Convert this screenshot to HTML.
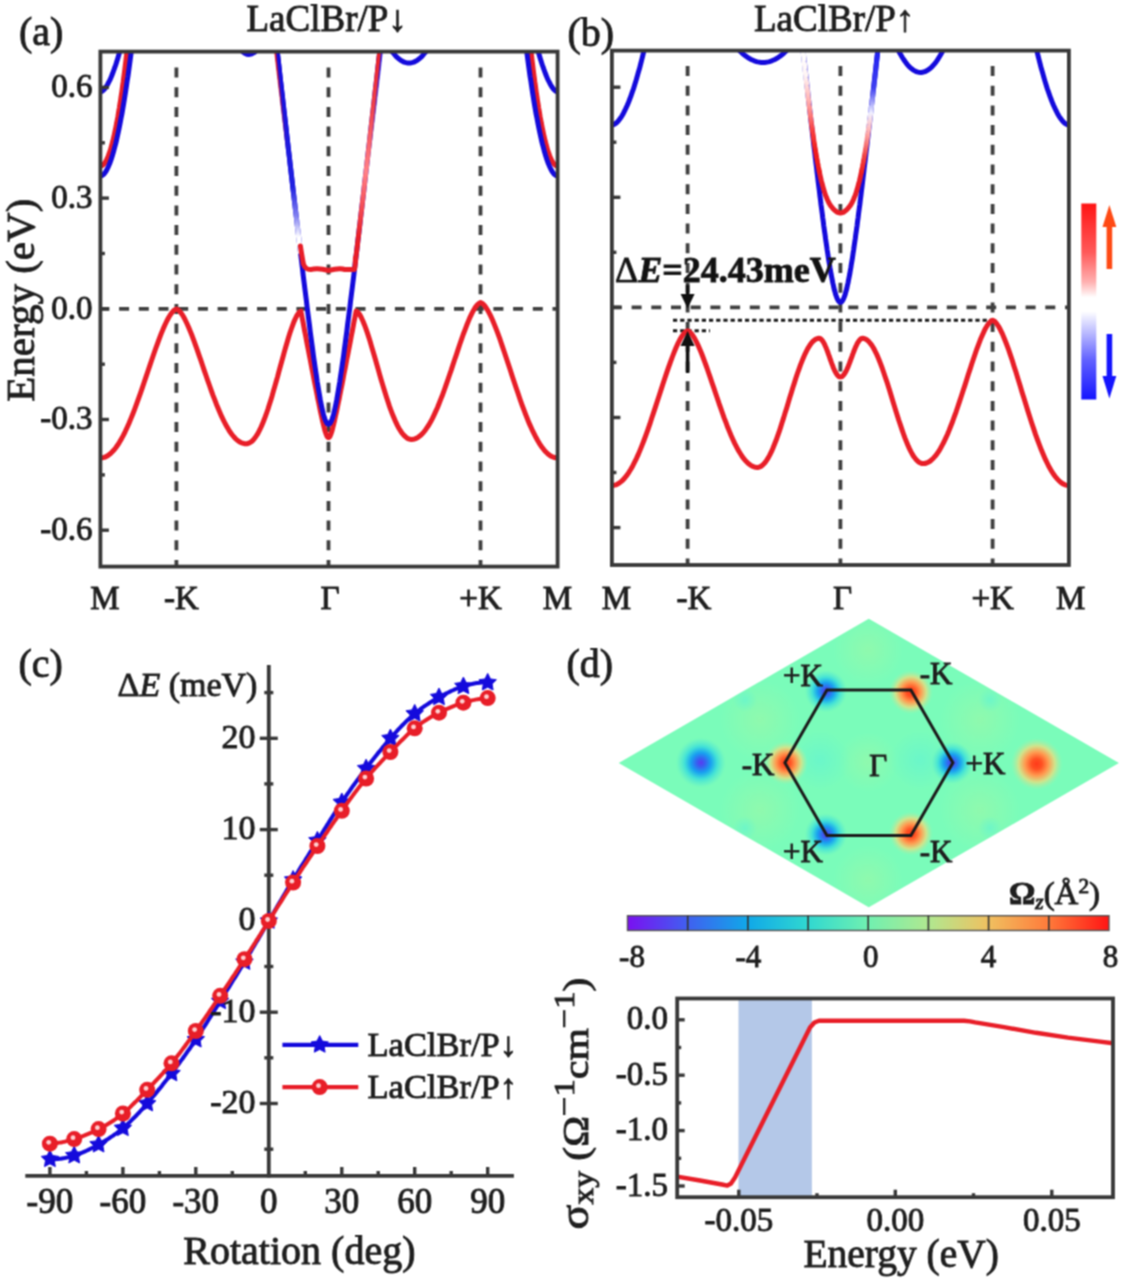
<!DOCTYPE html>
<html><head><meta charset="utf-8"><style>
html,body{margin:0;padding:0;background:#fff;width:1125px;height:1280px;overflow:hidden}
svg{display:block}
text{font-family:"Liberation Serif",serif;stroke:#1e1e1e;stroke-width:0.9px}
</style></head><body>
<svg width="1125" height="1280" viewBox="0 0 1125 1280">
<defs><filter id="bl" x="0" y="0" width="1125" height="1280" filterUnits="userSpaceOnUse" color-interpolation-filters="sRGB"><feConvolveMatrix order="3" kernelMatrix="1 2 1 2 4 2 1 2 1" divisor="16" edgeMode="duplicate" preserveAlpha="true"/></filter></defs>
<rect width="1125" height="1280" fill="#fff"/>
<g filter="url(#bl)">
<rect width="1125" height="1280" fill="#fff"/>
<clipPath id="clipa"><rect x="100.4" y="51.6" width="457.20000000000005" height="515.0"/></clipPath>
<line x1="176.4" y1="67.5" x2="176.4" y2="566.6" stroke="#404040" stroke-width="3.8" stroke-dasharray="10 9.7"/>
<line x1="328.5" y1="67.5" x2="328.5" y2="566.6" stroke="#404040" stroke-width="3.8" stroke-dasharray="10 9.7"/>
<line x1="480.5" y1="67.5" x2="480.5" y2="566.6" stroke="#404040" stroke-width="3.8" stroke-dasharray="10 9.7"/>
<line x1="100.4" y1="308.8" x2="557.6" y2="308.8" stroke="#404040" stroke-width="3.8" stroke-dasharray="10 9.7" stroke-dashoffset="1"/>
<linearGradient id="aLarm" gradientUnits="userSpaceOnUse" x1="0" y1="51" x2="0" y2="245"><stop offset="0" stop-color="#140adc"/><stop offset="0.7" stop-color="#2020e0"/><stop offset="0.85" stop-color="#8080f0"/><stop offset="0.96" stop-color="#ffffff"/><stop offset="1" stop-color="#ffffff"/></linearGradient>
<linearGradient id="aRarm" gradientUnits="userSpaceOnUse" x1="0" y1="51" x2="0" y2="270"><stop offset="0" stop-color="#e81e28"/><stop offset="0.25" stop-color="#f04048"/><stop offset="0.55" stop-color="#ff8088"/><stop offset="0.75" stop-color="#f04048"/><stop offset="0.85" stop-color="#e81e28"/><stop offset="1" stop-color="#e81e28"/></linearGradient>
<linearGradient id="aLedge" gradientUnits="userSpaceOnUse" x1="0" y1="51" x2="0" y2="150"><stop offset="0" stop-color="#f01c1c" stop-opacity="0.9"/><stop offset="1" stop-color="#f01c1c" stop-opacity="0"/></linearGradient>
<linearGradient id="aRedge" gradientUnits="userSpaceOnUse" x1="0" y1="51" x2="0" y2="150"><stop offset="0" stop-color="#1c1cf0" stop-opacity="0.9"/><stop offset="1" stop-color="#1c1cf0" stop-opacity="0"/></linearGradient>
<g clip-path="url(#clipa)" fill="none" stroke-width="5.0" stroke-linecap="round" stroke-linejoin="round">
<path d="M100.4,458.0 L102.3,457.8 L104.2,457.4 L106.1,456.6 L108.0,455.5 L109.9,454.1 L111.8,452.3 L113.7,450.3 L115.6,448.0 L117.5,445.3 L119.4,442.3 L121.3,439.1 L123.2,435.6 L125.1,431.8 L127.0,427.7 L128.9,423.5 L130.8,418.9 L132.7,414.2 L134.6,409.3 L136.5,404.2 L138.4,398.9 L140.3,393.6 L142.2,388.1 L144.1,382.5 L146.0,376.9 L147.9,371.2 L149.8,365.6 L151.7,360.0 L153.6,354.5 L155.5,349.0 L157.4,343.8 L159.3,338.6 L161.2,333.7 L163.1,329.1 L165.0,324.8 L166.9,320.8 L168.8,317.3 L170.7,314.2 L172.6,311.7 L174.5,309.9 L176.4,309.0 L178.1,309.8 L179.9,311.4 L181.6,313.7 L183.4,316.5 L185.1,319.7 L186.8,323.3 L188.6,327.2 L190.3,331.4 L192.1,335.8 L193.8,340.4 L195.5,345.2 L197.3,350.1 L199.0,355.1 L200.8,360.2 L202.5,365.3 L204.2,370.4 L206.0,375.5 L207.7,380.5 L209.5,385.5 L211.2,390.4 L212.9,395.1 L214.7,399.7 L216.4,404.2 L218.2,408.5 L219.9,412.5 L221.6,416.4 L223.4,420.1 L225.1,423.5 L226.9,426.7 L228.6,429.6 L230.3,432.3 L232.1,434.7 L233.8,436.8 L235.6,438.7 L237.3,440.3 L239.0,441.5 L240.8,442.5 L242.5,443.2 L244.3,443.7 L246.0,443.8 L247.4,443.7 L248.7,443.2 L250.1,442.5 L251.5,441.6 L252.9,440.3 L254.2,438.8 L255.6,436.9 L257.0,434.9 L258.4,432.5 L259.7,429.9 L261.1,427.0 L262.5,423.8 L263.8,420.5 L265.2,416.9 L266.6,413.0 L268.0,409.0 L269.3,404.8 L270.7,400.4 L272.1,395.9 L273.4,391.2 L274.8,386.4 L276.2,381.5 L277.6,376.6 L278.9,371.6 L280.3,366.5 L281.7,361.5 L283.1,356.5 L284.4,351.6 L285.8,346.8 L287.2,342.0 L288.5,337.5 L289.9,333.1 L291.3,329.0 L292.7,325.2 L294.0,321.6 L295.4,318.5 L296.8,315.7 L298.2,313.5 L299.5,311.9 L300.9,311.1 L301.8,316.0 L302.8,320.9 L303.7,325.8 L304.6,330.7 L305.6,335.6 L306.5,340.5 L307.4,345.3 L308.4,350.2 L309.3,355.1 L310.3,359.9 L311.2,364.7 L312.1,369.6 L313.1,374.4 L314.0,379.2 L314.9,383.9 L315.9,388.7 L316.8,393.4 L317.7,398.1 L318.7,402.7 L319.6,407.2 L320.5,411.7 L321.5,416.1 L322.4,420.3 L323.4,424.4 L324.3,428.1 L325.2,431.5 L326.2,434.3 L327.1,436.4 L328.0,437.6 L329.0,437.6 L329.9,436.4 L330.8,434.3 L331.8,431.5 L332.7,428.1 L333.6,424.4 L334.6,420.3 L335.5,416.1 L336.5,411.7 L337.4,407.2 L338.3,402.7 L339.3,398.1 L340.2,393.4 L341.1,388.7 L342.1,383.9 L343.0,379.2 L343.9,374.4 L344.9,369.6 L345.8,364.7 L346.7,359.9 L347.7,355.1 L348.6,350.2 L349.6,345.3 L350.5,340.5 L351.4,335.6 L352.4,330.7 L353.3,325.8 L354.2,320.9 L355.2,316.0 L356.1,311.1 L356.1,311.1 L357.5,311.8 L358.9,313.4 L360.3,315.6 L361.6,318.2 L363.0,321.3 L364.4,324.7 L365.8,328.4 L367.2,332.4 L368.6,336.6 L370.0,341.0 L371.3,345.6 L372.7,350.2 L374.1,355.0 L375.5,359.8 L376.9,364.7 L378.3,369.6 L379.6,374.4 L381.0,379.2 L382.4,383.9 L383.8,388.5 L385.2,393.1 L386.6,397.4 L388.0,401.7 L389.3,405.8 L390.7,409.7 L392.1,413.3 L393.5,416.8 L394.9,420.1 L396.3,423.1 L397.6,425.9 L399.0,428.5 L400.4,430.7 L401.8,432.8 L403.2,434.5 L404.6,436.0 L406.0,437.2 L407.3,438.2 L408.7,438.9 L410.1,439.3 L411.5,439.4 L413.2,439.3 L414.9,438.8 L416.7,438.1 L418.4,437.1 L420.1,435.8 L421.9,434.2 L423.6,432.3 L425.3,430.2 L427.0,427.7 L428.8,425.0 L430.5,422.1 L432.2,418.8 L433.9,415.3 L435.6,411.6 L437.4,407.7 L439.1,403.5 L440.8,399.2 L442.6,394.7 L444.3,390.0 L446.0,385.2 L447.7,380.2 L449.4,375.2 L451.2,370.1 L452.9,364.9 L454.6,359.8 L456.4,354.6 L458.1,349.4 L459.8,344.3 L461.5,339.4 L463.2,334.5 L465.0,329.8 L466.7,325.3 L468.4,321.1 L470.1,317.1 L471.9,313.4 L473.6,310.2 L475.3,307.4 L477.1,305.1 L478.8,303.4 L480.5,302.6 L482.5,303.5 L484.5,305.5 L486.4,308.2 L488.4,311.6 L490.4,315.4 L492.4,319.7 L494.3,324.4 L496.3,329.4 L498.3,334.7 L500.3,340.2 L502.2,345.9 L504.2,351.8 L506.2,357.7 L508.2,363.7 L510.2,369.8 L512.1,375.8 L514.1,381.8 L516.1,387.7 L518.1,393.5 L520.0,399.2 L522.0,404.8 L524.0,410.1 L526.0,415.3 L527.9,420.2 L529.9,424.9 L531.9,429.3 L533.9,433.4 L535.9,437.3 L537.8,440.8 L539.8,444.1 L541.8,447.0 L543.8,449.6 L545.7,451.8 L547.7,453.7 L549.7,455.3 L551.7,456.5 L553.6,457.3 L555.6,457.8 L557.6,458.0" stroke="#e81e28"/>
<path d="M274.5,27.3 L275.3,34.2 L276.1,41.0 L276.8,47.9 L277.6,54.7 L278.4,61.5 L279.2,68.4 L279.9,75.2 L280.7,82.0 L281.5,88.8 L282.3,95.6 L283.0,102.4 L283.8,109.2 L284.6,116.0 L285.4,122.8 L286.2,129.5 L286.9,136.3 L287.7,143.1 L288.5,149.8 L289.3,156.5 L290.0,163.3 L290.8,170.0 L291.6,176.7 L292.4,183.4 L293.1,190.1 L293.9,196.8 L294.7,203.4 L295.5,210.1 L296.3,216.7 L297.0,223.3 L297.8,229.9 L298.6,236.5 L299.4,243.0 L300.1,249.5 L300.9,256.0 L301.7,262.5 L302.5,269.0 L303.2,275.4 L304.0,281.8 L304.8,288.2 L305.6,294.5 L306.4,300.8 L307.1,307.0 L307.9,313.2 L308.7,319.3 L309.5,325.4 L310.2,331.5 L311.0,337.4 L311.8,343.3 L312.6,349.1 L313.3,354.8 L314.1,360.4 L314.9,365.9 L315.7,371.3 L316.5,376.5 L317.2,381.6 L318.0,386.5 L318.8,391.2 L319.6,395.8 L320.3,400.0 L321.1,404.1 L321.9,407.8 L322.7,411.3 L323.4,414.4 L324.2,417.1 L325.0,419.4 L325.8,421.3 L326.6,422.8 L327.3,423.7 L328.1,424.2 L328.9,424.2 L329.7,423.7 L330.4,422.8 L331.2,421.3 L332.0,419.4 L332.8,417.1 L333.6,414.4 L334.3,411.3 L335.1,407.8 L335.9,404.1 L336.7,400.0 L337.4,395.8 L338.2,391.2 L339.0,386.5 L339.8,381.6 L340.5,376.5 L341.3,371.3 L342.1,365.9 L342.9,360.4 L343.7,354.8 L344.4,349.1 L345.2,343.3 L346.0,337.4 L346.8,331.5 L347.5,325.4 L348.3,319.3 L349.1,313.2 L349.9,307.0 L350.6,300.8 L351.4,294.5 L352.2,288.2 L353.0,281.8 L353.8,275.4 L354.5,269.0 L355.3,262.5 L356.1,256.0 L356.9,249.5 L357.6,243.0 L358.4,236.5 L359.2,229.9 L360.0,223.3 L360.7,216.7 L361.5,210.1 L362.3,203.4 L363.1,196.8 L363.9,190.1 L364.6,183.4 L365.4,176.7 L366.2,170.0 L367.0,163.3 L367.7,156.5 L368.5,149.8 L369.3,143.1 L370.1,136.3 L370.8,129.5 L371.6,122.8 L372.4,116.0 L373.2,109.2 L374.0,102.4 L374.7,95.6 L375.5,88.8 L376.3,82.0 L377.1,75.2 L377.8,68.4 L378.6,61.5 L379.4,54.7 L380.2,47.9 L380.9,41.0 L381.7,34.2 L382.5,27.3" stroke="#140adc"/>
<path d="M276.5,45.0 L277.1,50.3 L277.7,55.6 L278.3,60.9 L278.9,66.2 L279.5,71.5 L280.1,76.8 L280.7,82.2 L281.3,87.5 L281.9,92.8 L282.6,98.1 L283.2,103.4 L283.8,108.7 L284.4,114.0 L285.0,119.3 L285.6,124.6 L286.2,129.9 L286.8,135.2 L287.4,140.5 L288.0,145.8 L288.6,151.2 L289.3,156.5 L289.9,161.8 L290.5,167.1 L291.1,172.4 L291.7,177.7 L292.3,183.0 L292.9,188.3 L293.6,193.6 L294.2,198.9 L294.8,204.2 L295.4,209.5 L296.0,214.8 L296.7,220.2 L297.3,225.5 L297.9,230.8 L298.5,236.1 L299.2,241.4 L299.8,246.7 L300.4,252.0" stroke="url(#aLarm)"/>
<path d="M274.3,45.0 L274.9,50.5 L275.6,56.1 L276.2,61.6 L276.8,67.1 L277.4,72.6 L278.1,78.2 L278.7,83.7 L279.3,89.2 L280.0,94.7 L280.6,100.3 L281.2,105.8 L281.9,111.3 L282.5,116.8 L283.1,122.4 L283.8,127.9 L284.4,133.4 L285.0,138.9 L285.7,144.5 L286.3,150.0" stroke="url(#aLedge)" stroke-width="1.8"/>
<path d="M380.5,45.0 L379.9,50.6 L379.2,56.1 L378.6,61.7 L378.0,67.3 L377.3,72.8 L376.7,78.4 L376.1,83.9 L375.4,89.5 L374.8,95.1 L374.2,100.6 L373.5,106.2 L372.9,111.8 L372.2,117.3 L371.6,122.9 L371.0,128.5 L370.3,134.0 L369.7,139.6 L369.1,145.2 L368.4,150.7 L367.8,156.3 L367.1,161.8 L366.5,167.4 L365.8,173.0 L365.2,178.5 L364.5,184.1 L363.9,189.7 L363.3,195.2 L362.6,200.8 L362.0,206.4 L361.3,211.9 L360.6,217.5 L360.0,223.1 L359.3,228.6 L358.7,234.2 L358.0,239.7 L357.4,245.3 L356.7,250.9 L356.0,256.4 L355.4,262.0" stroke="url(#aRarm)"/>
<path d="M382.7,45.0 L382.1,50.5 L381.4,56.1 L380.8,61.6 L380.2,67.1 L379.6,72.6 L378.9,78.2 L378.3,83.7 L377.7,89.2 L377.0,94.7 L376.4,100.3 L375.8,105.8 L375.1,111.3 L374.5,116.8 L373.9,122.4 L373.2,127.9 L372.6,133.4 L372.0,138.9 L371.3,144.5 L370.7,150.0" stroke="url(#aRedge)" stroke-width="1.8"/>
<path d="M300.4,246 Q301.9,256 303.4,264 Q305.4,269.6 310.4,269.6 Q318,267.5 328.5,270.5 Q340,267.5 345,269.6 L354.4,269.6 Q355.4,266 355.4,258" stroke="#e81e28"/>
<path d="M100.4,91.9 L100.8,91.8 L101.2,91.7 L101.6,91.5 L102.0,91.3 L102.4,91.0 L102.8,90.7 L103.2,90.3 L103.7,90.0 L104.1,89.5 L104.5,89.1 L104.9,88.6 L105.3,88.0 L105.7,87.5 L106.1,86.9 L106.5,86.2 L106.9,85.6 L107.3,84.9 L107.7,84.2 L108.1,83.4 L108.5,82.6 L108.9,81.8 L109.3,81.0 L109.8,80.2 L110.2,79.3 L110.6,78.4 L111.0,77.4 L111.4,76.5 L111.8,75.5 L112.2,74.5 L112.6,73.5 L113.0,72.4 L113.4,71.3 L113.8,70.2 L114.2,69.1 L114.6,67.9 L115.0,66.8 L115.5,65.6 L115.9,64.3 L116.3,63.1 L116.7,61.8 L117.1,60.5 L117.5,59.2 L117.9,57.9 L118.3,56.5 L118.7,55.2 L119.1,53.8 L119.5,52.4 L119.9,50.9 L120.3,49.4 L120.7,48.0 L121.1,46.5 L121.6,44.9 L122.0,43.4 L122.4,41.8 L122.8,40.2 L123.2,38.6 L123.6,37.0 L124.0,35.4 L124.4,33.7" stroke="#140adc"/>
<path d="M557.6,91.9 L557.2,91.8 L556.8,91.7 L556.4,91.5 L556.0,91.3 L555.6,91.0 L555.2,90.7 L554.8,90.3 L554.3,90.0 L553.9,89.5 L553.5,89.1 L553.1,88.6 L552.7,88.0 L552.3,87.5 L551.9,86.9 L551.5,86.2 L551.1,85.6 L550.7,84.9 L550.3,84.2 L549.9,83.4 L549.5,82.6 L549.1,81.8 L548.7,81.0 L548.2,80.2 L547.8,79.3 L547.4,78.4 L547.0,77.4 L546.6,76.5 L546.2,75.5 L545.8,74.5 L545.4,73.5 L545.0,72.4 L544.6,71.3 L544.2,70.2 L543.8,69.1 L543.4,67.9 L543.0,66.8 L542.5,65.6 L542.1,64.3 L541.7,63.1 L541.3,61.8 L540.9,60.5 L540.5,59.2 L540.1,57.9 L539.7,56.5 L539.3,55.2 L538.9,53.8 L538.5,52.4 L538.1,50.9 L537.7,49.4 L537.3,48.0 L536.9,46.5 L536.4,44.9 L536.0,43.4 L535.6,41.8 L535.2,40.2 L534.8,38.6 L534.4,37.0 L534.0,35.4 L533.6,33.7" stroke="#140adc"/>
<path d="M100.4,166.0 L100.9,166.0 L101.5,165.8 L102.0,165.6 L102.6,165.2 L103.1,164.8 L103.7,164.3 L104.2,163.7 L104.7,163.0 L105.3,162.1 L105.8,161.2 L106.4,160.2 L106.9,159.1 L107.5,157.9 L108.0,156.7 L108.5,155.3 L109.1,153.8 L109.6,152.2 L110.2,150.6 L110.7,148.8 L111.2,146.9 L111.8,145.0 L112.3,142.9 L112.9,140.8 L113.4,138.6 L114.0,136.2 L114.5,133.8 L115.0,131.3 L115.6,128.6 L116.1,125.9 L116.7,123.1 L117.2,120.2 L117.8,117.2 L118.3,114.1 L118.8,110.9 L119.4,107.6 L119.9,104.2 L120.5,100.8 L121.0,97.2 L121.6,93.5 L122.1,89.8 L122.6,85.9 L123.2,81.9 L123.7,77.9 L124.3,73.7 L124.8,69.5 L125.3,65.2 L125.9,60.7 L126.4,56.2 L127.0,51.6 L127.5,46.9 L128.1,42.0 L128.6,37.1 L129.1,32.1 L129.7,27.0 L130.2,21.8 L130.8,16.6 L131.3,11.2 L131.9,5.7 L132.4,0.1" stroke="#e81e28"/>
<path d="M557.6,166.0 L557.1,166.0 L556.5,165.8 L556.0,165.6 L555.4,165.2 L554.9,164.8 L554.3,164.3 L553.8,163.7 L553.3,163.0 L552.7,162.1 L552.2,161.2 L551.6,160.2 L551.1,159.1 L550.5,157.9 L550.0,156.7 L549.5,155.3 L548.9,153.8 L548.4,152.2 L547.8,150.6 L547.3,148.8 L546.8,146.9 L546.2,145.0 L545.7,142.9 L545.1,140.8 L544.6,138.6 L544.0,136.2 L543.5,133.8 L543.0,131.3 L542.4,128.6 L541.9,125.9 L541.3,123.1 L540.8,120.2 L540.2,117.2 L539.7,114.1 L539.2,110.9 L538.6,107.6 L538.1,104.2 L537.5,100.8 L537.0,97.2 L536.4,93.5 L535.9,89.8 L535.4,85.9 L534.8,81.9 L534.3,77.9 L533.7,73.7 L533.2,69.5 L532.7,65.2 L532.1,60.7 L531.6,56.2 L531.0,51.6 L530.5,46.9 L529.9,42.0 L529.4,37.1 L528.9,32.1 L528.3,27.0 L527.8,21.8 L527.2,16.6 L526.7,11.2 L526.1,5.7 L525.6,0.1" stroke="#e81e28"/>
<path d="M100.4,176.0 L101.0,175.9 L101.6,175.7 L102.2,175.4 L102.8,175.0 L103.5,174.5 L104.1,173.9 L104.7,173.2 L105.3,172.3 L105.9,171.4 L106.5,170.4 L107.1,169.3 L107.7,168.0 L108.3,166.7 L108.9,165.3 L109.6,163.8 L110.2,162.2 L110.8,160.5 L111.4,158.7 L112.0,156.8 L112.6,154.9 L113.2,152.8 L113.8,150.7 L114.4,148.4 L115.0,146.1 L115.7,143.6 L116.3,141.1 L116.9,138.5 L117.5,135.8 L118.1,133.0 L118.7,130.2 L119.3,127.2 L119.9,124.2 L120.5,121.0 L121.1,117.8 L121.8,114.5 L122.4,111.1 L123.0,107.6 L123.6,104.0 L124.2,100.3 L124.8,96.6 L125.4,92.8 L126.0,88.8 L126.6,84.8 L127.2,80.7 L127.9,76.6 L128.5,72.3 L129.1,68.0 L129.7,63.5 L130.3,59.0 L130.9,54.4 L131.5,49.7 L132.1,44.9 L132.7,40.1 L133.3,35.1 L134.0,30.1 L134.6,25.0 L135.2,19.8 L135.8,14.5 L136.4,9.2" stroke="#140adc"/>
<path d="M557.6,176.0 L557.0,175.9 L556.4,175.7 L555.8,175.4 L555.2,175.0 L554.5,174.5 L553.9,173.9 L553.3,173.2 L552.7,172.3 L552.1,171.4 L551.5,170.4 L550.9,169.3 L550.3,168.0 L549.7,166.7 L549.1,165.3 L548.4,163.8 L547.8,162.2 L547.2,160.5 L546.6,158.7 L546.0,156.8 L545.4,154.9 L544.8,152.8 L544.2,150.7 L543.6,148.4 L543.0,146.1 L542.3,143.6 L541.7,141.1 L541.1,138.5 L540.5,135.8 L539.9,133.0 L539.3,130.2 L538.7,127.2 L538.1,124.2 L537.5,121.0 L536.9,117.8 L536.2,114.5 L535.6,111.1 L535.0,107.6 L534.4,104.0 L533.8,100.3 L533.2,96.6 L532.6,92.8 L532.0,88.8 L531.4,84.8 L530.8,80.7 L530.1,76.6 L529.5,72.3 L528.9,68.0 L528.3,63.5 L527.7,59.0 L527.1,54.4 L526.5,49.7 L525.9,44.9 L525.3,40.1 L524.7,35.1 L524.0,30.1 L523.4,25.0 L522.8,19.8 L522.2,14.5 L521.6,9.2" stroke="#140adc"/>
<path d="M238,46 Q249,63 260,46" stroke="#140adc"/>
<path d="M388.0,45.4 L389.1,47.1 L390.2,48.8 L391.2,50.4 L392.3,51.9 L393.4,53.2 L394.5,54.5 L395.5,55.8 L396.6,56.9 L397.7,57.9 L398.8,58.8 L399.8,59.6 L400.9,60.4 L402.0,61.0 L403.1,61.6 L404.2,62.1 L405.2,62.4 L406.3,62.7 L407.4,62.9 L408.5,63.0 L409.5,63.0 L410.6,62.9 L411.7,62.7 L412.8,62.4 L413.8,62.1 L414.9,61.6 L416.0,61.0 L417.1,60.4 L418.2,59.6 L419.2,58.8 L420.3,57.9 L421.4,56.9 L422.5,55.8 L423.5,54.5 L424.6,53.2 L425.7,51.9 L426.8,50.4 L427.8,48.8 L428.9,47.1 L430.0,45.4" stroke="#140adc"/>
</g>
<rect x="100.4" y="51.6" width="457.20000000000005" height="515.0" fill="none" stroke="#383838" stroke-width="3.8"/>
<line x1="100.4" y1="87.4" x2="108.9" y2="87.4" stroke="#383838" stroke-width="3.4"/>
<line x1="100.4" y1="198.1" x2="108.9" y2="198.1" stroke="#383838" stroke-width="3.4"/>
<line x1="100.4" y1="308.8" x2="108.9" y2="308.8" stroke="#383838" stroke-width="3.4"/>
<line x1="100.4" y1="419.5" x2="108.9" y2="419.5" stroke="#383838" stroke-width="3.4"/>
<line x1="100.4" y1="530.2" x2="108.9" y2="530.2" stroke="#383838" stroke-width="3.4"/>
<line x1="100.4" y1="142.8" x2="104.9" y2="142.8" stroke="#383838" stroke-width="3.4"/>
<line x1="100.4" y1="253.5" x2="104.9" y2="253.5" stroke="#383838" stroke-width="3.4"/>
<line x1="100.4" y1="364.2" x2="104.9" y2="364.2" stroke="#383838" stroke-width="3.4"/>
<line x1="100.4" y1="474.9" x2="104.9" y2="474.9" stroke="#383838" stroke-width="3.4"/>
<text x="92.5" y="97.2" font-size="33" text-anchor="end" fill="#1e1e1e" >0.6</text>
<text x="92.5" y="207.9" font-size="33" text-anchor="end" fill="#1e1e1e" >0.3</text>
<text x="92.5" y="318.6" font-size="33" text-anchor="end" fill="#1e1e1e" >0.0</text>
<text x="92.5" y="429.3" font-size="33" text-anchor="end" fill="#1e1e1e" >-0.3</text>
<text x="92.5" y="540.0" font-size="33" text-anchor="end" fill="#1e1e1e" >-0.6</text>
<text x="0.0" y="0.0" font-size="41" text-anchor="middle" fill="#1e1e1e" transform="translate(34,300.2) rotate(-90)">Energy (eV)</text>
<text x="19.0" y="44.5" font-size="40" text-anchor="start" fill="#1e1e1e" >(a)</text>
<text x="246.5" y="31.0" font-size="37" text-anchor="start" fill="#1e1e1e" >LaClBr/P&#8595;</text>
<text x="105.0" y="608.6" font-size="33" text-anchor="middle" fill="#1e1e1e" >M</text>
<text x="181.5" y="608.6" font-size="33" text-anchor="middle" fill="#1e1e1e" >-K</text>
<text x="330.0" y="608.6" font-size="33" text-anchor="middle" fill="#1e1e1e" >&#915;</text>
<text x="480.6" y="608.6" font-size="33" text-anchor="middle" fill="#1e1e1e" >+K</text>
<text x="557.3" y="608.6" font-size="33" text-anchor="middle" fill="#1e1e1e" >M</text>
<clipPath id="clipb"><rect x="611.9" y="50.6" width="457.0000000000001" height="514.4"/></clipPath>
<line x1="687.6" y1="66" x2="687.6" y2="565.0" stroke="#404040" stroke-width="3.8" stroke-dasharray="10 9.7"/>
<line x1="840.4" y1="66" x2="840.4" y2="565.0" stroke="#404040" stroke-width="3.8" stroke-dasharray="10 9.7"/>
<line x1="992.6" y1="66" x2="992.6" y2="565.0" stroke="#404040" stroke-width="3.8" stroke-dasharray="10 9.7"/>
<line x1="611.9" y1="307.4" x2="1068.9" y2="307.4" stroke="#404040" stroke-width="3.8" stroke-dasharray="10 9.7"/>
<line x1="673" y1="320.3" x2="992.6" y2="320.3" stroke="#1a1a1a" stroke-width="3" stroke-dasharray="4.2 3"/>
<line x1="673" y1="330.8" x2="710" y2="330.8" stroke="#1a1a1a" stroke-width="3" stroke-dasharray="4.2 3"/>
<linearGradient id="bLarm" gradientUnits="userSpaceOnUse" x1="0" y1="51" x2="0" y2="150"><stop offset="0" stop-color="#ffffff"/><stop offset="0.25" stop-color="#fff4f4"/><stop offset="0.5" stop-color="#ffb0b0"/><stop offset="0.8" stop-color="#f84040"/><stop offset="1" stop-color="#f01c1c"/></linearGradient>
<linearGradient id="bRarm" gradientUnits="userSpaceOnUse" x1="0" y1="51" x2="0" y2="175"><stop offset="0" stop-color="#2020f0"/><stop offset="0.3" stop-color="#4040f0"/><stop offset="0.5" stop-color="#f0f0ff"/><stop offset="0.65" stop-color="#ffb0b0"/><stop offset="0.85" stop-color="#f04040"/><stop offset="1" stop-color="#f01c1c"/></linearGradient>
<g clip-path="url(#clipb)" fill="none" stroke-width="5.0" stroke-linecap="round" stroke-linejoin="round">
<path d="M611.9,485.5 L613.8,485.3 L615.7,484.9 L617.6,484.0 L619.5,482.9 L621.4,481.4 L623.3,479.6 L625.1,477.5 L627.0,475.1 L628.9,472.3 L630.8,469.2 L632.7,465.9 L634.6,462.2 L636.5,458.3 L638.4,454.1 L640.3,449.6 L642.2,444.9 L644.1,440.0 L646.0,434.9 L647.9,429.6 L649.8,424.2 L651.6,418.6 L653.5,412.9 L655.4,407.1 L657.3,401.3 L659.2,395.4 L661.1,389.6 L663.0,383.8 L664.9,378.0 L666.8,372.4 L668.7,366.9 L670.6,361.6 L672.5,356.5 L674.4,351.7 L676.2,347.2 L678.1,343.1 L680.0,339.4 L681.9,336.2 L683.8,333.6 L685.7,331.7 L687.6,330.8 L689.3,331.6 L691.1,333.3 L692.8,335.6 L694.6,338.4 L696.3,341.6 L698.1,345.3 L699.8,349.2 L701.6,353.5 L703.3,358.0 L705.0,362.7 L706.8,367.5 L708.5,372.5 L710.3,377.6 L712.0,382.7 L713.8,387.9 L715.5,393.0 L717.3,398.2 L719.0,403.3 L720.8,408.3 L722.5,413.3 L724.2,418.1 L726.0,422.7 L727.7,427.3 L729.5,431.6 L731.2,435.7 L733.0,439.7 L734.7,443.4 L736.5,446.8 L738.2,450.1 L740.0,453.0 L741.7,455.8 L743.4,458.2 L745.2,460.3 L746.9,462.2 L748.7,463.8 L750.4,465.1 L752.2,466.1 L753.9,466.8 L755.7,467.3 L757.4,467.4 L758.9,467.2 L760.5,466.6 L762.0,465.6 L763.6,464.2 L765.1,462.5 L766.6,460.4 L768.2,457.9 L769.7,455.1 L771.3,451.9 L772.8,448.5 L774.3,444.8 L775.9,440.8 L777.4,436.6 L779.0,432.2 L780.5,427.6 L782.0,422.8 L783.6,417.9 L785.1,412.9 L786.7,407.9 L788.2,402.9 L789.7,397.8 L791.3,392.8 L792.8,387.8 L794.4,382.9 L795.9,378.1 L797.4,373.5 L799.0,369.1 L800.5,364.9 L802.1,360.9 L803.6,357.2 L805.1,353.8 L806.7,350.6 L808.2,347.8 L809.8,345.3 L811.3,343.2 L812.8,341.5 L814.4,340.1 L815.9,339.1 L817.5,338.5 L819.0,338.3 L819.5,338.4 L820.1,338.5 L820.6,338.8 L821.1,339.2 L821.7,339.8 L822.2,340.4 L822.7,341.2 L823.3,342.0 L823.8,342.9 L824.4,344.0 L824.9,345.1 L825.4,346.3 L826.0,347.5 L826.5,348.9 L827.0,350.2 L827.6,351.7 L828.1,353.1 L828.6,354.6 L829.2,356.1 L829.7,357.6 L830.2,359.2 L830.8,360.7 L831.3,362.2 L831.8,363.6 L832.4,365.1 L832.9,366.4 L833.4,367.8 L834.0,369.0 L834.5,370.2 L835.0,371.3 L835.6,372.4 L836.1,373.3 L836.7,374.1 L837.2,374.9 L837.7,375.5 L838.3,376.1 L838.8,376.5 L839.3,376.8 L839.9,376.9 L840.4,377.0 L841.0,376.9 L841.5,376.8 L842.1,376.5 L842.6,376.1 L843.2,375.5 L843.7,374.9 L844.3,374.1 L844.8,373.3 L845.4,372.4 L846.0,371.3 L846.5,370.2 L847.1,369.0 L847.6,367.8 L848.2,366.4 L848.7,365.1 L849.3,363.6 L849.8,362.2 L850.4,360.7 L850.9,359.2 L851.5,357.7 L852.1,356.1 L852.6,354.6 L853.2,353.1 L853.7,351.7 L854.3,350.2 L854.8,348.9 L855.4,347.5 L855.9,346.3 L856.5,345.1 L857.0,344.0 L857.6,342.9 L858.2,342.0 L858.7,341.2 L859.3,340.4 L859.8,339.8 L860.4,339.2 L860.9,338.8 L861.5,338.5 L862.0,338.4 L862.6,338.3 L864.1,338.5 L865.6,339.1 L867.1,340.0 L868.6,341.4 L870.1,343.1 L871.7,345.1 L873.2,347.5 L874.7,350.3 L876.2,353.3 L877.7,356.6 L879.2,360.3 L880.7,364.1 L882.2,368.2 L883.7,372.5 L885.2,377.0 L886.8,381.6 L888.3,386.3 L889.8,391.1 L891.3,396.0 L892.8,400.9 L894.3,405.9 L895.8,410.8 L897.3,415.6 L898.8,420.3 L900.4,424.9 L901.9,429.4 L903.4,433.7 L904.9,437.8 L906.4,441.6 L907.9,445.3 L909.4,448.6 L910.9,451.6 L912.4,454.4 L913.9,456.8 L915.5,458.8 L917.0,460.5 L918.5,461.9 L920.0,462.8 L921.5,463.4 L923.0,463.6 L924.7,463.5 L926.5,463.0 L928.2,462.2 L930.0,461.2 L931.7,459.8 L933.4,458.2 L935.2,456.2 L936.9,453.9 L938.7,451.4 L940.4,448.5 L942.1,445.4 L943.9,442.0 L945.6,438.4 L947.4,434.5 L949.1,430.4 L950.8,426.0 L952.6,421.5 L954.3,416.7 L956.1,411.8 L957.8,406.8 L959.5,401.6 L961.3,396.3 L963.0,391.0 L964.8,385.6 L966.5,380.2 L968.2,374.7 L970.0,369.4 L971.7,364.0 L973.5,358.8 L975.2,353.7 L976.9,348.8 L978.7,344.1 L980.4,339.6 L982.2,335.5 L983.9,331.7 L985.6,328.2 L987.4,325.3 L989.1,322.9 L990.9,321.1 L992.6,320.3 L994.6,321.3 L996.5,323.4 L998.5,326.3 L1000.4,329.8 L1002.4,333.9 L1004.3,338.5 L1006.3,343.5 L1008.3,348.8 L1010.2,354.4 L1012.2,360.3 L1014.1,366.4 L1016.1,372.6 L1018.0,378.9 L1020.0,385.3 L1021.9,391.7 L1023.9,398.1 L1025.9,404.5 L1027.8,410.8 L1029.8,417.0 L1031.7,423.0 L1033.7,428.9 L1035.6,434.6 L1037.6,440.1 L1039.6,445.3 L1041.5,450.3 L1043.5,455.0 L1045.4,459.4 L1047.4,463.5 L1049.3,467.3 L1051.3,470.7 L1053.2,473.8 L1055.2,476.5 L1057.2,478.9 L1059.1,480.9 L1061.1,482.6 L1063.0,483.9 L1065.0,484.8 L1066.9,485.3 L1068.9,485.5" stroke="#e81e28"/>
<path d="M801.4,35.7 L802.0,40.8 L802.5,45.8 L803.1,50.8 L803.6,55.9 L804.2,60.9 L804.8,65.9 L805.3,70.9 L805.9,75.9 L806.5,80.9 L807.0,85.8 L807.6,90.8 L808.1,95.7 L808.7,100.7 L809.3,105.6 L809.8,110.5 L810.4,115.4 L810.9,120.3 L811.5,125.1 L812.1,130.0 L812.6,134.8 L813.2,139.6 L813.7,144.4 L814.3,149.2 L814.9,154.0 L815.4,158.7 L816.0,163.4 L816.6,168.1 L817.1,172.8 L817.7,177.4 L818.2,182.0 L818.8,186.6 L819.4,191.1 L819.9,195.6 L820.5,200.1 L821.0,204.6 L821.6,209.0 L822.2,213.3 L822.7,217.6 L823.3,221.9 L823.8,226.1 L824.4,230.3 L825.0,234.3 L825.5,238.4 L826.1,242.4 L826.7,246.3 L827.2,250.1 L827.8,253.8 L828.3,257.5 L828.9,261.1 L829.5,264.5 L830.0,267.9 L830.6,271.2 L831.1,274.3 L831.7,277.3 L832.3,280.2 L832.8,283.0 L833.4,285.5 L833.9,288.0 L834.5,290.3 L835.1,292.4 L835.6,294.3 L836.2,296.0 L836.8,297.6 L837.3,298.9 L837.9,300.0 L838.4,300.9 L839.0,301.6 L839.6,302.0 L840.1,302.3 L840.7,302.3 L841.2,302.0 L841.8,301.6 L842.4,300.9 L842.9,300.0 L843.5,298.9 L844.0,297.6 L844.6,296.0 L845.2,294.3 L845.7,292.4 L846.3,290.3 L846.9,288.0 L847.4,285.5 L848.0,283.0 L848.5,280.2 L849.1,277.3 L849.7,274.3 L850.2,271.2 L850.8,267.9 L851.3,264.5 L851.9,261.1 L852.5,257.5 L853.0,253.8 L853.6,250.1 L854.1,246.3 L854.7,242.4 L855.3,238.4 L855.8,234.3 L856.4,230.3 L857.0,226.1 L857.5,221.9 L858.1,217.6 L858.6,213.3 L859.2,209.0 L859.8,204.6 L860.3,200.1 L860.9,195.6 L861.4,191.1 L862.0,186.6 L862.6,182.0 L863.1,177.4 L863.7,172.8 L864.2,168.1 L864.8,163.4 L865.4,158.7 L865.9,154.0 L866.5,149.2 L867.1,144.4 L867.6,139.6 L868.2,134.8 L868.7,130.0 L869.3,125.1 L869.9,120.3 L870.4,115.4 L871.0,110.5 L871.5,105.6 L872.1,100.7 L872.7,95.7 L873.2,90.8 L873.8,85.8 L874.3,80.9 L874.9,75.9 L875.5,70.9 L876.0,65.9 L876.6,60.9 L877.2,55.9 L877.7,50.8 L878.3,45.8 L878.8,40.8 L879.4,35.7" stroke="#140adc"/>
<path d="M819.3,171.6 L820.0,175.0 L820.7,178.1 L821.4,181.1 L822.2,183.9 L822.9,186.6 L823.6,189.1 L824.3,191.4 L825.0,193.6 L825.7,195.6 L826.5,197.5 L827.2,199.2 L827.9,200.7 L828.6,202.2 L829.3,203.5 L830.0,204.7 L830.7,205.8 L831.5,206.7 L832.2,207.6 L832.9,208.5 L833.6,209.2 L834.3,209.9 L835.0,210.5 L835.8,211.1 L836.5,211.6 L837.2,212.1 L837.9,212.4 L838.6,212.7 L839.3,212.9 L840.0,213.0 L840.8,213.0 L841.5,212.9 L842.2,212.7 L842.9,212.4 L843.6,212.1 L844.3,211.6 L845.0,211.1 L845.8,210.5 L846.5,209.9 L847.2,209.2 L847.9,208.5 L848.6,207.6 L849.3,206.7 L850.1,205.8 L850.8,204.7 L851.5,203.5 L852.2,202.2 L852.9,200.7 L853.6,199.2 L854.3,197.5 L855.1,195.6 L855.8,193.6 L856.5,191.4 L857.2,189.1 L857.9,186.6 L858.6,183.9 L859.4,181.1 L860.1,178.1 L860.8,175.0 L861.5,171.6" stroke="#e81e28"/>
<path d="M801.9,38.0 L802.3,43.0 L802.8,47.8 L803.2,52.4 L803.7,56.9 L804.1,61.3 L804.6,65.6 L805.0,69.7 L805.5,73.8 L805.9,77.8 L806.4,81.7 L806.8,85.5 L807.3,89.4 L807.7,93.2 L808.1,96.9 L808.6,100.6 L809.0,104.3 L809.5,107.9 L809.9,111.4 L810.4,114.9 L810.8,118.4 L811.3,121.8 L811.7,125.1 L812.2,128.4 L812.6,131.6 L813.1,134.7 L813.5,137.8 L813.9,140.8 L814.4,143.8 L814.8,146.6 L815.3,149.5 L815.7,152.2 L816.2,154.9 L816.6,157.5 L817.1,160.0 L817.5,162.5 L818.0,164.8 L818.4,167.2 L818.9,169.4 L819.3,171.6" stroke="url(#bLarm)"/>
<path d="M861.5,171.6 L861.9,169.4 L862.4,167.2 L862.8,164.8 L863.3,162.5 L863.7,160.0 L864.2,157.5 L864.6,154.9 L865.1,152.2 L865.5,149.5 L866.0,146.6 L866.4,143.8 L866.9,140.8 L867.3,137.8 L867.7,134.7 L868.2,131.6 L868.6,128.4 L869.1,125.1 L869.5,121.8 L870.0,118.4 L870.4,114.9 L870.9,111.4 L871.3,107.9 L871.8,104.3 L872.2,100.6 L872.7,96.9 L873.1,93.2 L873.5,89.4 L874.0,85.5 L874.4,81.7 L874.9,77.8 L875.3,73.8 L875.8,69.7 L876.2,65.6 L876.7,61.3 L877.1,56.9 L877.6,52.4 L878.0,47.8 L878.5,43.0 L878.9,38.0" stroke="url(#bRarm)"/>
<path d="M611.9,125.0 L612.5,124.9 L613.1,124.8 L613.7,124.6 L614.3,124.3 L615.0,123.9 L615.6,123.5 L616.2,123.0 L616.8,122.5 L617.4,121.9 L618.0,121.3 L618.6,120.6 L619.2,119.8 L619.8,119.0 L620.4,118.1 L621.1,117.2 L621.7,116.3 L622.3,115.3 L622.9,114.2 L623.5,113.1 L624.1,111.9 L624.7,110.8 L625.3,109.5 L625.9,108.2 L626.5,106.9 L627.2,105.5 L627.8,104.1 L628.4,102.6 L629.0,101.1 L629.6,99.5 L630.2,97.9 L630.8,96.3 L631.4,94.6 L632.0,92.9 L632.6,91.1 L633.3,89.3 L633.9,87.4 L634.5,85.5 L635.1,83.6 L635.7,81.6 L636.3,79.6 L636.9,77.5 L637.5,75.4 L638.1,73.2 L638.7,71.1 L639.4,68.8 L640.0,66.6 L640.6,64.2 L641.2,61.9 L641.8,59.5 L642.4,57.1 L643.0,54.6 L643.6,52.1 L644.2,49.6 L644.8,47.0 L645.5,44.4 L646.1,41.7 L646.7,39.0 L647.3,36.3 L647.9,33.5" stroke="#140adc"/>
<path d="M1068.9,125.0 L1068.3,124.9 L1067.7,124.8 L1067.1,124.6 L1066.5,124.3 L1065.8,123.9 L1065.2,123.5 L1064.6,123.0 L1064.0,122.5 L1063.4,121.9 L1062.8,121.3 L1062.2,120.6 L1061.6,119.8 L1061.0,119.0 L1060.4,118.1 L1059.7,117.2 L1059.1,116.3 L1058.5,115.3 L1057.9,114.2 L1057.3,113.1 L1056.7,111.9 L1056.1,110.8 L1055.5,109.5 L1054.9,108.2 L1054.3,106.9 L1053.6,105.5 L1053.0,104.1 L1052.4,102.6 L1051.8,101.1 L1051.2,99.5 L1050.6,97.9 L1050.0,96.3 L1049.4,94.6 L1048.8,92.9 L1048.2,91.1 L1047.5,89.3 L1046.9,87.4 L1046.3,85.5 L1045.7,83.6 L1045.1,81.6 L1044.5,79.6 L1043.9,77.5 L1043.3,75.4 L1042.7,73.2 L1042.1,71.1 L1041.4,68.8 L1040.8,66.6 L1040.2,64.2 L1039.6,61.9 L1039.0,59.5 L1038.4,57.1 L1037.8,54.6 L1037.2,52.1 L1036.6,49.6 L1036.0,47.0 L1035.3,44.4 L1034.7,41.7 L1034.1,39.0 L1033.5,36.3 L1032.9,33.5" stroke="#140adc"/>
<path d="M740.0,51.1 L741.2,52.2 L742.4,53.3 L743.5,54.3 L744.7,55.3 L745.9,56.2 L747.1,57.0 L748.3,57.8 L749.4,58.5 L750.6,59.2 L751.8,59.8 L753.0,60.3 L754.2,60.8 L755.3,61.2 L756.5,61.6 L757.7,61.9 L758.9,62.1 L760.1,62.3 L761.2,62.4 L762.4,62.5 L763.6,62.5 L764.8,62.4 L765.9,62.3 L767.1,62.1 L768.3,61.9 L769.5,61.6 L770.7,61.2 L771.8,60.8 L773.0,60.3 L774.2,59.8 L775.4,59.2 L776.6,58.5 L777.7,57.8 L778.9,57.0 L780.1,56.2 L781.3,55.3 L782.5,54.3 L783.6,53.3 L784.8,52.2 L786.0,51.1" stroke="#140adc"/>
<path d="M894.0,40.8 L895.4,44.0 L896.7,46.9 L898.1,49.7 L899.4,52.4 L900.8,54.8 L902.2,57.2 L903.5,59.3 L904.9,61.3 L906.2,63.1 L907.6,64.8 L908.9,66.3 L910.3,67.6 L911.7,68.8 L913.0,69.8 L914.4,70.6 L915.7,71.3 L917.1,71.8 L918.5,72.2 L919.8,72.4 L921.2,72.4 L922.5,72.3 L923.9,71.9 L925.3,71.5 L926.6,70.8 L928.0,70.1 L929.3,69.1 L930.7,68.0 L932.1,66.7 L933.4,65.2 L934.8,63.6 L936.1,61.9 L937.5,59.9 L938.8,57.8 L940.2,55.5 L941.6,53.1 L942.9,50.5 L944.3,47.8 L945.6,44.8 L947.0,41.8" stroke="#140adc"/>
</g>
<rect x="611.9" y="50.6" width="457.0000000000001" height="514.4" fill="none" stroke="#383838" stroke-width="3.8"/>
<line x1="611.9" y1="87.2" x2="620.4" y2="87.2" stroke="#383838" stroke-width="3.4"/>
<line x1="611.9" y1="197.3" x2="620.4" y2="197.3" stroke="#383838" stroke-width="3.4"/>
<line x1="611.9" y1="307.4" x2="620.4" y2="307.4" stroke="#383838" stroke-width="3.4"/>
<line x1="611.9" y1="417.5" x2="620.4" y2="417.5" stroke="#383838" stroke-width="3.4"/>
<line x1="611.9" y1="527.6" x2="620.4" y2="527.6" stroke="#383838" stroke-width="3.4"/>
<line x1="611.9" y1="142.2" x2="616.4" y2="142.2" stroke="#383838" stroke-width="3.4"/>
<line x1="611.9" y1="252.3" x2="616.4" y2="252.3" stroke="#383838" stroke-width="3.4"/>
<line x1="611.9" y1="362.4" x2="616.4" y2="362.4" stroke="#383838" stroke-width="3.4"/>
<line x1="611.9" y1="472.5" x2="616.4" y2="472.5" stroke="#383838" stroke-width="3.4"/>
<line x1="687.6" y1="285" x2="687.6" y2="298" stroke="#111" stroke-width="3.6"/>
<path d="M680.6,294 L694.6,294 L687.6,308.5 Z" fill="#111"/>
<line x1="687.6" y1="343" x2="687.6" y2="373" stroke="#111" stroke-width="3.6"/>
<path d="M680.6,346 L694.6,346 L687.6,331 Z" fill="#111"/>
<linearGradient id="spin" x1="0" y1="0" x2="0" y2="1"><stop offset="0" stop-color="#ff1414"/><stop offset="0.25" stop-color="#ff5a5a"/><stop offset="0.4" stop-color="#ffb0b0"/><stop offset="0.48" stop-color="#ffffff"/><stop offset="0.55" stop-color="#ffffff"/><stop offset="0.65" stop-color="#c0c0ff"/><stop offset="0.8" stop-color="#6060ff"/><stop offset="1" stop-color="#1414ff"/></linearGradient>
<rect x="1081.3" y="203.5" width="15" height="196" fill="url(#spin)"/>
<line x1="1109.4" y1="222" x2="1109.4" y2="269" stroke="#ff4a14" stroke-width="5.6"/>
<path d="M1102.5,227 L1116.3,227 L1109.4,205 Z" fill="#ff4a14"/>
<line x1="1109.4" y1="334" x2="1109.4" y2="380" stroke="#1414ff" stroke-width="5.6"/>
<path d="M1102.5,376 L1116.3,376 L1109.4,398.6 Z" fill="#1414ff"/>
<text x="567.5" y="46.0" font-size="40" text-anchor="start" fill="#1e1e1e" >(b)</text>
<text x="754.0" y="31.0" font-size="37" text-anchor="start" fill="#1e1e1e" >LaClBr/P&#8593;</text>
<text x="616.5" y="608.6" font-size="33" text-anchor="middle" fill="#1e1e1e" >M</text>
<text x="694.0" y="608.6" font-size="33" text-anchor="middle" fill="#1e1e1e" >-K</text>
<text x="842.5" y="608.6" font-size="33" text-anchor="middle" fill="#1e1e1e" >&#915;</text>
<text x="992.7" y="608.6" font-size="33" text-anchor="middle" fill="#1e1e1e" >+K</text>
<text x="1070.7" y="608.6" font-size="33" text-anchor="middle" fill="#1e1e1e" >M</text>
<text x="615" y="282.3" font-size="36" font-weight="bold" fill="#111"><tspan font-weight="normal">&#916;</tspan><tspan font-style="italic">E</tspan><tspan>=24.43meV</tspan></text>
<line x1="268.8" y1="664.9" x2="268.8" y2="1177.5" stroke="#383838" stroke-width="3.8"/>
<line x1="25.3" y1="1175.8" x2="513.9" y2="1175.8" stroke="#383838" stroke-width="3.8"/>
<line x1="259.8" y1="738.3" x2="277.8" y2="738.3" stroke="#383838" stroke-width="3.4"/>
<line x1="259.8" y1="829.6" x2="277.8" y2="829.6" stroke="#383838" stroke-width="3.4"/>
<line x1="259.8" y1="1012.2" x2="277.8" y2="1012.2" stroke="#383838" stroke-width="3.4"/>
<line x1="259.8" y1="1103.5" x2="277.8" y2="1103.5" stroke="#383838" stroke-width="3.4"/>
<line x1="264.3" y1="692.6" x2="273.3" y2="692.6" stroke="#383838" stroke-width="3.4"/>
<line x1="264.3" y1="783.9" x2="273.3" y2="783.9" stroke="#383838" stroke-width="3.4"/>
<line x1="264.3" y1="875.2" x2="273.3" y2="875.2" stroke="#383838" stroke-width="3.4"/>
<line x1="264.3" y1="966.5" x2="273.3" y2="966.5" stroke="#383838" stroke-width="3.4"/>
<line x1="264.3" y1="1057.8" x2="273.3" y2="1057.8" stroke="#383838" stroke-width="3.4"/>
<line x1="264.3" y1="1149.2" x2="273.3" y2="1149.2" stroke="#383838" stroke-width="3.4"/>
<line x1="49.9" y1="1175.8" x2="49.9" y2="1167" stroke="#383838" stroke-width="3.4"/>
<line x1="122.9" y1="1175.8" x2="122.9" y2="1167" stroke="#383838" stroke-width="3.4"/>
<line x1="195.8" y1="1175.8" x2="195.8" y2="1167" stroke="#383838" stroke-width="3.4"/>
<line x1="341.8" y1="1175.8" x2="341.8" y2="1167" stroke="#383838" stroke-width="3.4"/>
<line x1="414.7" y1="1175.8" x2="414.7" y2="1167" stroke="#383838" stroke-width="3.4"/>
<line x1="487.7" y1="1175.8" x2="487.7" y2="1167" stroke="#383838" stroke-width="3.4"/>
<line x1="86.4" y1="1175.8" x2="86.4" y2="1171" stroke="#383838" stroke-width="3.4"/>
<line x1="159.4" y1="1175.8" x2="159.4" y2="1171" stroke="#383838" stroke-width="3.4"/>
<line x1="232.3" y1="1175.8" x2="232.3" y2="1171" stroke="#383838" stroke-width="3.4"/>
<line x1="305.3" y1="1175.8" x2="305.3" y2="1171" stroke="#383838" stroke-width="3.4"/>
<line x1="378.2" y1="1175.8" x2="378.2" y2="1171" stroke="#383838" stroke-width="3.4"/>
<line x1="451.2" y1="1175.8" x2="451.2" y2="1171" stroke="#383838" stroke-width="3.4"/>
<path d="M49.9,1159.2 L51.1,1159.2 L52.4,1159.3 L53.6,1159.2 L54.8,1159.2 L56.0,1159.2 L57.2,1159.1 L58.4,1159.0 L59.6,1158.8 L60.9,1158.7 L62.1,1158.5 L63.3,1158.3 L64.5,1158.1 L65.7,1157.8 L66.9,1157.6 L68.2,1157.3 L69.4,1157.0 L70.6,1156.6 L71.8,1156.3 L73.0,1155.9 L74.2,1155.5 L75.5,1155.1 L76.7,1154.7 L77.9,1154.3 L79.1,1153.8 L80.3,1153.4 L81.5,1152.9 L82.8,1152.4 L84.0,1151.8 L85.2,1151.3 L86.4,1150.8 L87.6,1150.2 L88.8,1149.6 L90.0,1149.0 L91.3,1148.4 L92.5,1147.8 L93.7,1147.2 L94.9,1146.6 L96.1,1145.9 L97.3,1145.3 L98.6,1144.6 L99.8,1143.9 L101.0,1143.2 L102.2,1142.5 L103.4,1141.8 L104.6,1141.1 L105.9,1140.3 L107.1,1139.6 L108.3,1138.8 L109.5,1138.0 L110.7,1137.2 L111.9,1136.4 L113.2,1135.6 L114.4,1134.7 L115.6,1133.9 L116.8,1133.0 L118.0,1132.0 L119.2,1131.1 L120.4,1130.1 L121.7,1129.2 L122.9,1128.2 L124.1,1127.1 L125.3,1126.1 L126.5,1125.0 L127.7,1123.9 L129.0,1122.7 L130.2,1121.6 L131.4,1120.4 L132.6,1119.2 L133.8,1118.0 L135.0,1116.8 L136.3,1115.5 L137.5,1114.2 L138.7,1113.0 L139.9,1111.7 L141.1,1110.3 L142.3,1109.0 L143.6,1107.6 L144.8,1106.3 L146.0,1104.9 L147.2,1103.5 L148.4,1102.1 L149.6,1100.7 L150.8,1099.2 L152.1,1097.8 L153.3,1096.3 L154.5,1094.9 L155.7,1093.4 L156.9,1091.9 L158.1,1090.4 L159.4,1088.9 L160.6,1087.4 L161.8,1085.9 L163.0,1084.3 L164.2,1082.8 L165.4,1081.2 L166.7,1079.7 L167.9,1078.1 L169.1,1076.5 L170.3,1075.0 L171.5,1073.4 L172.7,1071.8 L174.0,1070.2 L175.2,1068.6 L176.4,1066.9 L177.6,1065.3 L178.8,1063.7 L180.0,1062.0 L181.2,1060.4 L182.5,1058.7 L183.7,1057.0 L184.9,1055.4 L186.1,1053.7 L187.3,1051.9 L188.5,1050.2 L189.8,1048.5 L191.0,1046.7 L192.2,1045.0 L193.4,1043.2 L194.6,1041.4 L195.8,1039.6 L197.1,1037.8 L198.3,1035.9 L199.5,1034.1 L200.7,1032.2 L201.9,1030.3 L203.1,1028.4 L204.4,1026.5 L205.6,1024.6 L206.8,1022.7 L208.0,1020.8 L209.2,1018.8 L210.4,1016.9 L211.6,1014.9 L212.9,1013.0 L214.1,1011.0 L215.3,1009.1 L216.5,1007.1 L217.7,1005.2 L218.9,1003.2 L220.2,1001.2 L221.4,999.3 L222.6,997.3 L223.8,995.4 L225.0,993.4 L226.2,991.5 L227.5,989.5 L228.7,987.6 L229.9,985.6 L231.1,983.7 L232.3,981.7 L233.5,979.8 L234.8,977.8 L236.0,975.9 L237.2,973.9 L238.4,971.9 L239.6,969.9 L240.8,968.0 L242.0,966.0 L243.3,964.0 L244.5,962.0 L245.7,960.0 L246.9,958.0 L248.1,955.9 L249.3,953.9 L250.6,951.9 L251.8,949.8 L253.0,947.8 L254.2,945.7 L255.4,943.7 L256.6,941.6 L257.9,939.6 L259.1,937.5 L260.3,935.4 L261.5,933.4 L262.7,931.3 L263.9,929.2 L265.2,927.1 L266.4,925.1 L267.6,923.0 L268.8,920.9 L270.0,918.8 L271.2,916.7 L272.4,914.7 L273.7,912.6 L274.9,910.5 L276.1,908.4 L277.3,906.4 L278.5,904.3 L279.7,902.2 L281.0,900.2 L282.2,898.1 L283.4,896.1 L284.6,894.0 L285.8,892.0 L287.0,889.9 L288.3,887.9 L289.5,885.9 L290.7,883.8 L291.9,881.8 L293.1,879.8 L294.3,877.8 L295.6,875.8 L296.8,873.8 L298.0,871.9 L299.2,869.9 L300.4,867.9 L301.6,865.9 L302.8,864.0 L304.1,862.0 L305.3,860.1 L306.5,858.1 L307.7,856.2 L308.9,854.2 L310.1,852.3 L311.4,850.3 L312.6,848.4 L313.8,846.4 L315.0,844.5 L316.2,842.5 L317.4,840.6 L318.7,838.6 L319.9,836.6 L321.1,834.7 L322.3,832.7 L323.5,830.8 L324.7,828.8 L326.0,826.9 L327.2,824.9 L328.4,823.0 L329.6,821.0 L330.8,819.1 L332.0,817.2 L333.2,815.3 L334.5,813.4 L335.7,811.5 L336.9,809.6 L338.1,807.7 L339.3,805.9 L340.5,804.0 L341.8,802.2 L343.0,800.4 L344.2,798.6 L345.4,796.8 L346.6,795.1 L347.8,793.3 L349.1,791.6 L350.3,789.9 L351.5,788.1 L352.7,786.4 L353.9,784.8 L355.1,783.1 L356.4,781.4 L357.6,779.8 L358.8,778.1 L360.0,776.5 L361.2,774.9 L362.4,773.2 L363.6,771.6 L364.9,770.0 L366.1,768.4 L367.3,766.8 L368.5,765.3 L369.7,763.7 L370.9,762.1 L372.2,760.6 L373.4,759.0 L374.6,757.5 L375.8,755.9 L377.0,754.4 L378.2,752.9 L379.5,751.4 L380.7,749.9 L381.9,748.4 L383.1,746.9 L384.3,745.5 L385.5,744.0 L386.8,742.6 L388.0,741.1 L389.2,739.7 L390.4,738.3 L391.6,736.9 L392.8,735.5 L394.0,734.2 L395.3,732.8 L396.5,731.5 L397.7,730.1 L398.9,728.8 L400.1,727.6 L401.3,726.3 L402.6,725.0 L403.8,723.8 L405.0,722.6 L406.2,721.4 L407.4,720.2 L408.6,719.1 L409.9,717.9 L411.1,716.8 L412.3,715.7 L413.5,714.7 L414.7,713.6 L415.9,712.6 L417.2,711.7 L418.4,710.7 L419.6,709.8 L420.8,708.8 L422.0,707.9 L423.2,707.1 L424.4,706.2 L425.7,705.4 L426.9,704.6 L428.1,703.8 L429.3,703.0 L430.5,702.2 L431.7,701.5 L433.0,700.7 L434.2,700.0 L435.4,699.3 L436.6,698.6 L437.8,697.9 L439.0,697.2 L440.3,696.5 L441.5,695.9 L442.7,695.2 L443.9,694.6 L445.1,694.0 L446.3,693.4 L447.6,692.8 L448.8,692.2 L450.0,691.6 L451.2,691.0 L452.4,690.5 L453.6,690.0 L454.8,689.4 L456.1,688.9 L457.3,688.4 L458.5,688.0 L459.7,687.5 L460.9,687.1 L462.1,686.7 L463.4,686.3 L464.6,685.9 L465.8,685.5 L467.0,685.2 L468.2,684.8 L469.4,684.5 L470.7,684.2 L471.9,684.0 L473.1,683.7 L474.3,683.5 L475.5,683.3 L476.7,683.1 L478.0,683.0 L479.2,682.8 L480.4,682.7 L481.6,682.6 L482.8,682.6 L484.0,682.6 L485.2,682.5 L486.5,682.6 L487.7,682.6" fill="none" stroke="#140adc" stroke-width="4"/>
<polygon points="49.9,1150.0 52.6,1155.5 58.7,1156.4 54.3,1160.6 55.3,1166.6 49.9,1163.8 44.5,1166.6 45.5,1160.6 41.2,1156.4 47.2,1155.5" fill="#140adc" stroke="#140adc" stroke-width="1"/>
<polygon points="74.2,1146.3 76.9,1151.8 83.0,1152.7 78.6,1157.0 79.6,1163.0 74.2,1160.1 68.8,1163.0 69.9,1157.0 65.5,1152.7 71.5,1151.8" fill="#140adc" stroke="#140adc" stroke-width="1"/>
<polygon points="98.6,1135.4 101.3,1140.9 107.3,1141.7 102.9,1146.0 104.0,1152.0 98.6,1149.2 93.2,1152.0 94.2,1146.0 89.8,1141.7 95.9,1140.9" fill="#140adc" stroke="#140adc" stroke-width="1"/>
<polygon points="122.9,1119.0 125.6,1124.4 131.6,1125.3 127.3,1129.6 128.3,1135.6 122.9,1132.8 117.5,1135.6 118.5,1129.6 114.1,1125.3 120.2,1124.4" fill="#140adc" stroke="#140adc" stroke-width="1"/>
<polygon points="147.2,1094.3 149.9,1099.8 155.9,1100.7 151.6,1104.9 152.6,1110.9 147.2,1108.1 141.8,1110.9 142.8,1104.9 138.5,1100.7 144.5,1099.8" fill="#140adc" stroke="#140adc" stroke-width="1"/>
<polygon points="171.5,1064.2 174.2,1069.6 180.3,1070.5 175.9,1074.8 176.9,1080.8 171.5,1078.0 166.1,1080.8 167.1,1074.8 162.8,1070.5 168.8,1069.6" fill="#140adc" stroke="#140adc" stroke-width="1"/>
<polygon points="195.8,1030.4 198.5,1035.9 204.6,1036.7 200.2,1041.0 201.2,1047.0 195.8,1044.2 190.4,1047.0 191.5,1041.0 187.1,1036.7 193.1,1035.9" fill="#140adc" stroke="#140adc" stroke-width="1"/>
<polygon points="220.2,992.0 222.9,997.5 228.9,998.4 224.5,1002.7 225.6,1008.7 220.2,1005.8 214.8,1008.7 215.8,1002.7 211.4,998.4 217.5,997.5" fill="#140adc" stroke="#140adc" stroke-width="1"/>
<polygon points="244.5,952.8 247.2,958.3 253.2,959.1 248.9,963.4 249.9,969.4 244.5,966.6 239.1,969.4 240.1,963.4 235.7,959.1 241.8,958.3" fill="#140adc" stroke="#140adc" stroke-width="1"/>
<polygon points="268.8,911.7 271.5,917.2 277.5,918.1 273.2,922.3 274.2,928.3 268.8,925.5 263.4,928.3 264.4,922.3 260.1,918.1 266.1,917.2" fill="#140adc" stroke="#140adc" stroke-width="1"/>
<polygon points="293.1,870.6 295.8,876.1 301.9,877.0 297.5,881.2 298.5,887.3 293.1,884.4 287.7,887.3 288.7,881.2 284.4,877.0 290.4,876.1" fill="#140adc" stroke="#140adc" stroke-width="1"/>
<polygon points="317.4,831.4 320.1,836.8 326.2,837.7 321.8,842.0 322.8,848.0 317.4,845.2 312.0,848.0 313.1,842.0 308.7,837.7 314.7,836.8" fill="#140adc" stroke="#140adc" stroke-width="1"/>
<polygon points="341.8,793.0 344.5,798.5 350.5,799.4 346.1,803.6 347.2,809.7 341.8,806.8 336.4,809.7 337.4,803.6 333.0,799.4 339.1,798.5" fill="#140adc" stroke="#140adc" stroke-width="1"/>
<polygon points="366.1,759.2 368.8,764.7 374.8,765.6 370.5,769.9 371.5,775.9 366.1,773.0 360.7,775.9 361.7,769.9 357.3,765.6 363.4,764.7" fill="#140adc" stroke="#140adc" stroke-width="1"/>
<polygon points="390.4,729.1 393.1,734.6 399.1,735.5 394.8,739.7 395.8,745.7 390.4,742.9 385.0,745.7 386.0,739.7 381.7,735.5 387.7,734.6" fill="#140adc" stroke="#140adc" stroke-width="1"/>
<polygon points="414.7,704.4 417.4,709.9 423.5,710.8 419.1,715.1 420.1,721.1 414.7,718.2 409.3,721.1 410.3,715.1 406.0,710.8 412.0,709.9" fill="#140adc" stroke="#140adc" stroke-width="1"/>
<polygon points="439.0,688.0 441.7,693.5 447.8,694.4 443.4,698.6 444.4,704.7 439.0,701.8 433.6,704.7 434.7,698.6 430.3,694.4 436.3,693.5" fill="#140adc" stroke="#140adc" stroke-width="1"/>
<polygon points="463.4,677.1 466.1,682.5 472.1,683.4 467.7,687.7 468.8,693.7 463.4,690.9 458.0,693.7 459.0,687.7 454.6,683.4 460.7,682.5" fill="#140adc" stroke="#140adc" stroke-width="1"/>
<polygon points="487.7,673.4 490.4,678.9 496.4,679.8 492.1,684.0 493.1,690.0 487.7,687.2 482.3,690.0 483.3,684.0 478.9,679.8 485.0,678.9" fill="#140adc" stroke="#140adc" stroke-width="1"/>
<path d="M49.9,1143.7 L51.1,1143.6 L52.4,1143.5 L53.6,1143.4 L54.8,1143.3 L56.0,1143.1 L57.2,1143.0 L58.4,1142.8 L59.6,1142.6 L60.9,1142.4 L62.1,1142.2 L63.3,1141.9 L64.5,1141.7 L65.7,1141.4 L66.9,1141.1 L68.2,1140.8 L69.4,1140.5 L70.6,1140.2 L71.8,1139.8 L73.0,1139.5 L74.2,1139.1 L75.5,1138.7 L76.7,1138.3 L77.9,1137.9 L79.1,1137.5 L80.3,1137.1 L81.5,1136.6 L82.8,1136.1 L84.0,1135.7 L85.2,1135.2 L86.4,1134.7 L87.6,1134.2 L88.8,1133.6 L90.0,1133.1 L91.3,1132.6 L92.5,1132.0 L93.7,1131.4 L94.9,1130.9 L96.1,1130.3 L97.3,1129.7 L98.6,1129.1 L99.8,1128.4 L101.0,1127.8 L102.2,1127.2 L103.4,1126.5 L104.6,1125.9 L105.9,1125.2 L107.1,1124.5 L108.3,1123.8 L109.5,1123.0 L110.7,1122.3 L111.9,1121.5 L113.2,1120.7 L114.4,1119.9 L115.6,1119.1 L116.8,1118.2 L118.0,1117.3 L119.2,1116.4 L120.4,1115.5 L121.7,1114.5 L122.9,1113.5 L124.1,1112.5 L125.3,1111.5 L126.5,1110.4 L127.7,1109.3 L129.0,1108.2 L130.2,1107.1 L131.4,1105.9 L132.6,1104.7 L133.8,1103.5 L135.0,1102.3 L136.3,1101.1 L137.5,1099.9 L138.7,1098.6 L139.9,1097.4 L141.1,1096.1 L142.3,1094.9 L143.6,1093.6 L144.8,1092.3 L146.0,1091.1 L147.2,1089.8 L148.4,1088.5 L149.6,1087.3 L150.8,1086.0 L152.1,1084.7 L153.3,1083.5 L154.5,1082.2 L155.7,1080.9 L156.9,1079.6 L158.1,1078.3 L159.4,1077.0 L160.6,1075.7 L161.8,1074.4 L163.0,1073.1 L164.2,1071.7 L165.4,1070.4 L166.7,1069.0 L167.9,1067.6 L169.1,1066.2 L170.3,1064.8 L171.5,1063.3 L172.7,1061.9 L174.0,1060.4 L175.2,1058.9 L176.4,1057.3 L177.6,1055.8 L178.8,1054.2 L180.0,1052.7 L181.2,1051.1 L182.5,1049.4 L183.7,1047.8 L184.9,1046.2 L186.1,1044.5 L187.3,1042.9 L188.5,1041.2 L189.8,1039.5 L191.0,1037.8 L192.2,1036.1 L193.4,1034.4 L194.6,1032.7 L195.8,1031.0 L197.1,1029.3 L198.3,1027.6 L199.5,1025.8 L200.7,1024.1 L201.9,1022.3 L203.1,1020.6 L204.4,1018.8 L205.6,1017.1 L206.8,1015.3 L208.0,1013.6 L209.2,1011.8 L210.4,1010.0 L211.6,1008.3 L212.9,1006.5 L214.1,1004.7 L215.3,1002.9 L216.5,1001.1 L217.7,999.3 L218.9,997.6 L220.2,995.8 L221.4,994.0 L222.6,992.2 L223.8,990.4 L225.0,988.6 L226.2,986.8 L227.5,985.0 L228.7,983.2 L229.9,981.3 L231.1,979.5 L232.3,977.7 L233.5,975.9 L234.8,974.1 L236.0,972.2 L237.2,970.4 L238.4,968.5 L239.6,966.7 L240.8,964.8 L242.0,963.0 L243.3,961.1 L244.5,959.2 L245.7,957.4 L246.9,955.5 L248.1,953.6 L249.3,951.7 L250.6,949.8 L251.8,947.9 L253.0,946.0 L254.2,944.1 L255.4,942.2 L256.6,940.2 L257.9,938.3 L259.1,936.4 L260.3,934.5 L261.5,932.5 L262.7,930.6 L263.9,928.7 L265.2,926.7 L266.4,924.8 L267.6,922.8 L268.8,920.9 L270.0,919.0 L271.2,917.0 L272.4,915.1 L273.7,913.1 L274.9,911.2 L276.1,909.3 L277.3,907.3 L278.5,905.4 L279.7,903.5 L281.0,901.6 L282.2,899.6 L283.4,897.7 L284.6,895.8 L285.8,893.9 L287.0,892.0 L288.3,890.1 L289.5,888.2 L290.7,886.3 L291.9,884.4 L293.1,882.6 L294.3,880.7 L295.6,878.8 L296.8,877.0 L298.0,875.1 L299.2,873.3 L300.4,871.4 L301.6,869.6 L302.8,867.7 L304.1,865.9 L305.3,864.1 L306.5,862.3 L307.7,860.5 L308.9,858.6 L310.1,856.8 L311.4,855.0 L312.6,853.2 L313.8,851.4 L315.0,849.6 L316.2,847.8 L317.4,846.0 L318.7,844.2 L319.9,842.5 L321.1,840.7 L322.3,838.9 L323.5,837.1 L324.7,835.3 L326.0,833.5 L327.2,831.8 L328.4,830.0 L329.6,828.2 L330.8,826.5 L332.0,824.7 L333.2,823.0 L334.5,821.2 L335.7,819.5 L336.9,817.7 L338.1,816.0 L339.3,814.2 L340.5,812.5 L341.8,810.8 L343.0,809.1 L344.2,807.4 L345.4,805.7 L346.6,804.0 L347.8,802.3 L349.1,800.6 L350.3,798.9 L351.5,797.3 L352.7,795.6 L353.9,794.0 L355.1,792.4 L356.4,790.7 L357.6,789.1 L358.8,787.6 L360.0,786.0 L361.2,784.5 L362.4,782.9 L363.6,781.4 L364.9,779.9 L366.1,778.5 L367.3,777.0 L368.5,775.6 L369.7,774.2 L370.9,772.8 L372.2,771.4 L373.4,770.1 L374.6,768.7 L375.8,767.4 L377.0,766.1 L378.2,764.8 L379.5,763.5 L380.7,762.2 L381.9,760.9 L383.1,759.6 L384.3,758.3 L385.5,757.1 L386.8,755.8 L388.0,754.5 L389.2,753.3 L390.4,752.0 L391.6,750.7 L392.8,749.5 L394.0,748.2 L395.3,746.9 L396.5,745.7 L397.7,744.4 L398.9,743.2 L400.1,741.9 L401.3,740.7 L402.6,739.5 L403.8,738.3 L405.0,737.1 L406.2,735.9 L407.4,734.7 L408.6,733.6 L409.9,732.5 L411.1,731.4 L412.3,730.3 L413.5,729.3 L414.7,728.3 L415.9,727.3 L417.2,726.3 L418.4,725.4 L419.6,724.5 L420.8,723.6 L422.0,722.7 L423.2,721.9 L424.4,721.1 L425.7,720.3 L426.9,719.5 L428.1,718.8 L429.3,718.0 L430.5,717.3 L431.7,716.6 L433.0,715.9 L434.2,715.3 L435.4,714.6 L436.6,714.0 L437.8,713.4 L439.0,712.7 L440.3,712.1 L441.5,711.5 L442.7,710.9 L443.9,710.4 L445.1,709.8 L446.3,709.2 L447.6,708.7 L448.8,708.2 L450.0,707.6 L451.2,707.1 L452.4,706.6 L453.6,706.1 L454.8,705.7 L456.1,705.2 L457.3,704.7 L458.5,704.3 L459.7,703.9 L460.9,703.5 L462.1,703.1 L463.4,702.7 L464.6,702.3 L465.8,702.0 L467.0,701.6 L468.2,701.3 L469.4,701.0 L470.7,700.7 L471.9,700.4 L473.1,700.1 L474.3,699.9 L475.5,699.6 L476.7,699.4 L478.0,699.2 L479.2,699.0 L480.4,698.8 L481.6,698.7 L482.8,698.5 L484.0,698.4 L485.2,698.3 L486.5,698.2 L487.7,698.1" fill="none" stroke="#e81e28" stroke-width="4"/>
<circle cx="49.9" cy="1143.7" r="8" fill="#e81e28"/><circle cx="48.7" cy="1142.3" r="2.4" fill="#ffd0d0"/>
<circle cx="74.2" cy="1139.1" r="8" fill="#e81e28"/><circle cx="73.0" cy="1137.7" r="2.4" fill="#ffd0d0"/>
<circle cx="98.6" cy="1129.1" r="8" fill="#e81e28"/><circle cx="97.4" cy="1127.7" r="2.4" fill="#ffd0d0"/>
<circle cx="122.9" cy="1113.5" r="8" fill="#e81e28"/><circle cx="121.7" cy="1112.1" r="2.4" fill="#ffd0d0"/>
<circle cx="147.2" cy="1089.8" r="8" fill="#e81e28"/><circle cx="146.0" cy="1088.4" r="2.4" fill="#ffd0d0"/>
<circle cx="171.5" cy="1063.3" r="8" fill="#e81e28"/><circle cx="170.3" cy="1061.9" r="2.4" fill="#ffd0d0"/>
<circle cx="195.8" cy="1031.0" r="8" fill="#e81e28"/><circle cx="194.6" cy="1029.6" r="2.4" fill="#ffd0d0"/>
<circle cx="220.2" cy="995.8" r="8" fill="#e81e28"/><circle cx="219.0" cy="994.4" r="2.4" fill="#ffd0d0"/>
<circle cx="244.5" cy="959.2" r="8" fill="#e81e28"/><circle cx="243.3" cy="957.8" r="2.4" fill="#ffd0d0"/>
<circle cx="268.8" cy="920.9" r="8" fill="#e81e28"/><circle cx="267.6" cy="919.5" r="2.4" fill="#ffd0d0"/>
<circle cx="293.1" cy="882.6" r="8" fill="#e81e28"/><circle cx="291.9" cy="881.2" r="2.4" fill="#ffd0d0"/>
<circle cx="317.4" cy="846.0" r="8" fill="#e81e28"/><circle cx="316.2" cy="844.6" r="2.4" fill="#ffd0d0"/>
<circle cx="341.8" cy="810.8" r="8" fill="#e81e28"/><circle cx="340.6" cy="809.4" r="2.4" fill="#ffd0d0"/>
<circle cx="366.1" cy="778.5" r="8" fill="#e81e28"/><circle cx="364.9" cy="777.1" r="2.4" fill="#ffd0d0"/>
<circle cx="390.4" cy="752.0" r="8" fill="#e81e28"/><circle cx="389.2" cy="750.6" r="2.4" fill="#ffd0d0"/>
<circle cx="414.7" cy="728.3" r="8" fill="#e81e28"/><circle cx="413.5" cy="726.9" r="2.4" fill="#ffd0d0"/>
<circle cx="439.0" cy="712.7" r="8" fill="#e81e28"/><circle cx="437.8" cy="711.3" r="2.4" fill="#ffd0d0"/>
<circle cx="463.4" cy="702.7" r="8" fill="#e81e28"/><circle cx="462.2" cy="701.3" r="2.4" fill="#ffd0d0"/>
<circle cx="487.7" cy="698.1" r="8" fill="#e81e28"/><circle cx="486.5" cy="696.7" r="2.4" fill="#ffd0d0"/>
<line x1="282.4" y1="1044.8" x2="358.3" y2="1044.8" stroke="#140adc" stroke-width="4.2"/>
<polygon points="319.7,1035.6 322.4,1041.1 328.4,1042.0 324.1,1046.2 325.1,1052.2 319.7,1049.4 314.3,1052.2 315.3,1046.2 311.0,1042.0 317.0,1041.1" fill="#140adc" stroke="#140adc" stroke-width="1"/>
<line x1="282.4" y1="1087.1" x2="358.3" y2="1087.1" stroke="#e81e28" stroke-width="4.2"/>
<circle cx="319.7" cy="1087.1" r="8" fill="#e81e28"/><circle cx="318.5" cy="1085.7" r="2.4" fill="#ffd0d0"/>
<text x="18.5" y="677.0" font-size="40" text-anchor="start" fill="#1e1e1e" >(c)</text>
<text x="117.5" y="696" font-size="34" fill="#1e1e1e"><tspan>&#916;</tspan><tspan font-style="italic">E</tspan><tspan> (meV)</tspan></text>
<text x="255.5" y="747.8" font-size="34" text-anchor="end" fill="#1e1e1e" >20</text>
<text x="255.5" y="839.1" font-size="34" text-anchor="end" fill="#1e1e1e" >10</text>
<text x="255.5" y="930.4" font-size="34" text-anchor="end" fill="#1e1e1e" >0</text>
<text x="255.5" y="1021.7" font-size="34" text-anchor="end" fill="#1e1e1e" >-10</text>
<text x="255.5" y="1113.0" font-size="34" text-anchor="end" fill="#1e1e1e" >-20</text>
<text x="49.9" y="1213.4" font-size="35" text-anchor="middle" fill="#1e1e1e" >-90</text>
<text x="122.9" y="1213.4" font-size="35" text-anchor="middle" fill="#1e1e1e" >-60</text>
<text x="195.8" y="1213.4" font-size="35" text-anchor="middle" fill="#1e1e1e" >-30</text>
<text x="268.8" y="1213.4" font-size="35" text-anchor="middle" fill="#1e1e1e" >0</text>
<text x="341.8" y="1213.4" font-size="35" text-anchor="middle" fill="#1e1e1e" >30</text>
<text x="414.7" y="1213.4" font-size="35" text-anchor="middle" fill="#1e1e1e" >60</text>
<text x="487.7" y="1213.4" font-size="35" text-anchor="middle" fill="#1e1e1e" >90</text>
<text x="299.4" y="1263.5" font-size="40" text-anchor="middle" fill="#1e1e1e" >Rotation (deg)</text>
<text x="367.5" y="1056.0" font-size="34.5" text-anchor="start" fill="#1e1e1e" >LaClBr/P&#8595;</text>
<text x="367.5" y="1098.3" font-size="34.5" text-anchor="start" fill="#1e1e1e" >LaClBr/P&#8593;</text>
<clipPath id="rh"><polygon points="868.8,618.7 1118.9,763 868.8,907.3 618.7,763"/></clipPath>
<radialGradient id="gb"><stop offset="0" stop-color="#5a3af0"/><stop offset="0.15" stop-color="#3a5cf0"/><stop offset="0.38" stop-color="#18a0f0"/><stop offset="0.62" stop-color="#40e0d8"/><stop offset="0.85" stop-color="#62f0c8" stop-opacity="0.6"/><stop offset="1" stop-color="#7afcba" stop-opacity="0"/></radialGradient>
<radialGradient id="gr"><stop offset="0" stop-color="#ff3a1a"/><stop offset="0.2" stop-color="#ff5022"/><stop offset="0.45" stop-color="#ff9a50"/><stop offset="0.7" stop-color="#d0e48c"/><stop offset="0.88" stop-color="#a0f0a8" stop-opacity="0.6"/><stop offset="1" stop-color="#90f8b0" stop-opacity="0"/></radialGradient>
<g clip-path="url(#rh)">
<rect x="610" y="610" width="520" height="310" fill="#7afcba"/>
<radialGradient id="gy"><stop offset="0" stop-color="#98f8a8" stop-opacity="0.7"/><stop offset="1" stop-color="#98f8a8" stop-opacity="0"/></radialGradient>
<radialGradient id="gc"><stop offset="0" stop-color="#64f4d0" stop-opacity="0.7"/><stop offset="1" stop-color="#64f4d0" stop-opacity="0"/></radialGradient>
<circle cx="760" cy="720" r="40" fill="url(#gy)"/>
<circle cx="980" cy="720" r="40" fill="url(#gy)"/>
<circle cx="760" cy="810" r="40" fill="url(#gy)"/>
<circle cx="980" cy="810" r="40" fill="url(#gy)"/>
<circle cx="868" cy="650" r="35" fill="url(#gy)"/>
<circle cx="868" cy="880" r="35" fill="url(#gy)"/>
<circle cx="868" cy="762" r="30" fill="url(#gy)"/>
<circle cx="820" cy="760" r="30" fill="url(#gc)"/>
<circle cx="920" cy="760" r="30" fill="url(#gc)"/>
<circle cx="745" cy="700" r="12" fill="url(#gc)"/>
<circle cx="990" cy="700" r="12" fill="url(#gc)"/>
<circle cx="745" cy="828" r="12" fill="url(#gc)"/>
<circle cx="990" cy="828" r="12" fill="url(#gc)"/>
<circle cx="825.9" cy="691.1" r="22" fill="url(#gb)"/>
<circle cx="825.9" cy="834.5" r="22" fill="url(#gb)"/>
<circle cx="951.9" cy="762.8" r="22" fill="url(#gb)"/>
<circle cx="700.9" cy="762.7" r="26" fill="url(#gb)"/>
<circle cx="910.9" cy="692.1" r="22" fill="url(#gr)"/>
<circle cx="910.9" cy="833.5" r="22" fill="url(#gr)"/>
<circle cx="785.9" cy="762.8" r="22" fill="url(#gr)"/>
<circle cx="1036.7" cy="764.0" r="26" fill="url(#gr)"/>
</g>
<polygon points="952.9,762.8 910.9,835.5 826.9,835.5 784.9,762.8 826.9,690.1 910.9,690.1" fill="none" stroke="#1a1a1a" stroke-width="3.0" stroke-linejoin="miter"/>
<linearGradient id="cmap" x1="0" x2="1" y1="0" y2="0"><stop offset="0" stop-color="#7a10f0"/><stop offset="0.125" stop-color="#4060f0"/><stop offset="0.25" stop-color="#10a8e8"/><stop offset="0.375" stop-color="#30d8d0"/><stop offset="0.5" stop-color="#70f0b0"/><stop offset="0.625" stop-color="#b0e890"/><stop offset="0.75" stop-color="#f0c060"/><stop offset="0.875" stop-color="#ff7a3a"/><stop offset="1" stop-color="#ff1414"/></linearGradient>
<rect x="627.5" y="915.7" width="481.5" height="14.8" fill="url(#cmap)" stroke="#555" stroke-width="1.4"/>
<line x1="687.7" y1="915.7" x2="687.7" y2="930.5" stroke="#333" stroke-width="1.6"/>
<line x1="747.9" y1="915.7" x2="747.9" y2="930.5" stroke="#333" stroke-width="1.6"/>
<line x1="808.1" y1="915.7" x2="808.1" y2="930.5" stroke="#333" stroke-width="1.6"/>
<line x1="868.2" y1="915.7" x2="868.2" y2="930.5" stroke="#333" stroke-width="1.6"/>
<line x1="928.4" y1="915.7" x2="928.4" y2="930.5" stroke="#333" stroke-width="1.6"/>
<line x1="988.6" y1="915.7" x2="988.6" y2="930.5" stroke="#333" stroke-width="1.6"/>
<line x1="1048.8" y1="915.7" x2="1048.8" y2="930.5" stroke="#333" stroke-width="1.6"/>
<text x="566.5" y="677.0" font-size="40" text-anchor="start" fill="#1e1e1e" >(d)</text>
<text x="803.0" y="686.0" font-size="31" text-anchor="middle" fill="#1e1e1e" >+K</text>
<text x="936.0" y="683.5" font-size="31" text-anchor="middle" fill="#1e1e1e" >-K</text>
<text x="758.0" y="775.0" font-size="31" text-anchor="middle" fill="#1e1e1e" >-K</text>
<text x="985.5" y="773.7" font-size="31" text-anchor="middle" fill="#1e1e1e" >+K</text>
<text x="803.0" y="862.0" font-size="31" text-anchor="middle" fill="#1e1e1e" >+K</text>
<text x="936.0" y="862.0" font-size="31" text-anchor="middle" fill="#1e1e1e" >-K</text>
<text x="878.3" y="776.4" font-size="31" text-anchor="middle" fill="#1e1e1e" >&#915;</text>
<text x="632.0" y="966.5" font-size="31" text-anchor="middle" fill="#1e1e1e" >-8</text>
<text x="748.4" y="966.5" font-size="31" text-anchor="middle" fill="#1e1e1e" >-4</text>
<text x="870.8" y="966.5" font-size="31" text-anchor="middle" fill="#1e1e1e" >0</text>
<text x="988.6" y="966.5" font-size="31" text-anchor="middle" fill="#1e1e1e" >4</text>
<text x="1110.5" y="966.5" font-size="31" text-anchor="middle" fill="#1e1e1e" >8</text>
<text x="1009" y="903.5" font-size="31" fill="#1e1e1e" textLength="91" lengthAdjust="spacingAndGlyphs"><tspan font-weight="bold">&#937;</tspan><tspan font-size="20" font-style="italic" dy="5">z</tspan><tspan dy="-5">(&#197;</tspan><tspan font-size="20" dy="-11">2</tspan><tspan dy="11">)</tspan></text>
<rect x="738.5" y="998.5" width="73.39999999999998" height="198.70000000000005" fill="#b4c8e8"/>
<path d="M677.2,1176.6 L700.0,1180.5 L722.0,1184.5 L727.3,1185.6 L731.0,1183.5 L735.0,1177.5 L810.0,1027.5 L814.4,1022.5 L819.0,1020.8 L964.0,1020.8 L970.0,1021.4 L975.2,1022.4 L1004.0,1027.2 L1036.0,1032.8 L1068.0,1037.6 L1100.0,1041.6 L1113.0,1043.2" fill="none" stroke="#e81e28" stroke-width="4.4" stroke-linejoin="round"/>
<rect x="677.2" y="998.5" width="435.79999999999995" height="198.70000000000005" fill="none" stroke="#383838" stroke-width="3.8"/>
<line x1="677.2" y1="1019.8" x2="684.7" y2="1019.8" stroke="#383838" stroke-width="3.4"/>
<line x1="677.2" y1="1075.2" x2="684.7" y2="1075.2" stroke="#383838" stroke-width="3.4"/>
<line x1="677.2" y1="1130.6" x2="684.7" y2="1130.6" stroke="#383838" stroke-width="3.4"/>
<line x1="677.2" y1="1186.0" x2="684.7" y2="1186.0" stroke="#383838" stroke-width="3.4"/>
<line x1="677.2" y1="1047.5" x2="681.2" y2="1047.5" stroke="#383838" stroke-width="3.4"/>
<line x1="677.2" y1="1102.9" x2="681.2" y2="1102.9" stroke="#383838" stroke-width="3.4"/>
<line x1="677.2" y1="1158.3" x2="681.2" y2="1158.3" stroke="#383838" stroke-width="3.4"/>
<line x1="738.8" y1="1197.2" x2="738.8" y2="1189.7" stroke="#383838" stroke-width="3.4"/>
<line x1="895.3" y1="1197.2" x2="895.3" y2="1189.7" stroke="#383838" stroke-width="3.4"/>
<line x1="1051.8" y1="1197.2" x2="1051.8" y2="1189.7" stroke="#383838" stroke-width="3.4"/>
<line x1="817.0" y1="1197.2" x2="817.0" y2="1193.2" stroke="#383838" stroke-width="3.4"/>
<line x1="973.5" y1="1197.2" x2="973.5" y2="1193.2" stroke="#383838" stroke-width="3.4"/>
<text x="668.0" y="1029.3" font-size="33" text-anchor="end" fill="#1e1e1e" >0.0</text>
<text x="668.0" y="1084.7" font-size="33" text-anchor="end" fill="#1e1e1e" >-0.5</text>
<text x="668.0" y="1140.1" font-size="33" text-anchor="end" fill="#1e1e1e" >-1.0</text>
<text x="668.0" y="1195.5" font-size="33" text-anchor="end" fill="#1e1e1e" >-1.5</text>
<text x="738.8" y="1231.0" font-size="33" text-anchor="middle" fill="#1e1e1e" >-0.05</text>
<text x="895.3" y="1231.0" font-size="33" text-anchor="middle" fill="#1e1e1e" >0.00</text>
<text x="1051.8" y="1231.0" font-size="33" text-anchor="middle" fill="#1e1e1e" >0.05</text>
<text x="901.2" y="1267.2" font-size="39.5" text-anchor="middle" fill="#1e1e1e" >Energy (eV)</text>
<text transform="translate(588,1103.5) rotate(-90)" x="0" y="0" font-size="36" text-anchor="middle" fill="#1e1e1e" textLength="252" lengthAdjust="spacingAndGlyphs"><tspan font-size="40">&#963;</tspan><tspan font-size="29" dy="5">xy</tspan><tspan dy="-5"> (&#937;</tspan><tspan font-size="30" dy="-14">&#8722;1</tspan><tspan dy="14">cm</tspan><tspan font-size="30" dy="-14">&#8722;1</tspan><tspan dy="14">)</tspan></text>
</g>
</svg></body></html>
